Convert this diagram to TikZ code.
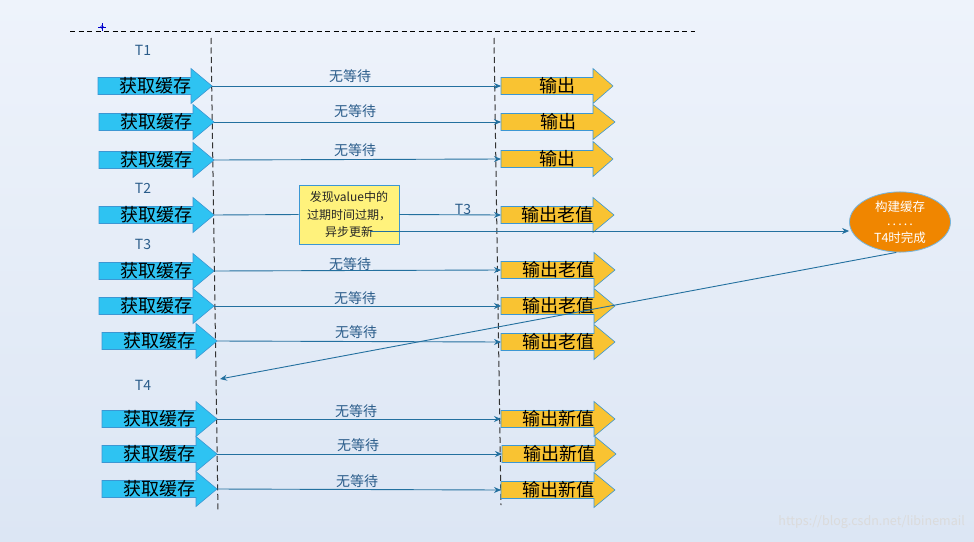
\documentclass[tikz,border=0pt]{standalone}
\usepackage{fontspec}
\setmainfont{Noto Sans CJK SC}
\usetikzlibrary{arrows.meta,shapes.geometric}
\definecolor{bgtop}{HTML}{EEF3FB}
\definecolor{bgbot}{HTML}{DCE6F4}
\definecolor{bluefill}{HTML}{2EC3F2}
\definecolor{blueedge}{HTML}{3C97D3}
\definecolor{yelfill}{HTML}{F9C332}
\definecolor{conncol}{HTML}{23709F}
\definecolor{lblcol}{HTML}{2A5C8A}
\definecolor{notefill}{HTML}{FFF27C}
\definecolor{orangefill}{HTML}{F08600}
\definecolor{dashcol}{HTML}{333333}
\tikzset{
  bluearrow/.style={fill=bluefill,draw=blueedge,line width=0.6pt},
  yelarrow/.style={fill=yelfill,draw=blueedge,line width=0.6pt},
  arrtext/.style={inner sep=0pt,font=\fontsize{18}{20}\selectfont,text=black},
  conn/.style={draw=conncol,line width=0.9pt,-{Stealth[length=7pt,width=6pt]}},
  lbl/.style={inner sep=0pt,font=\fontsize{14}{16}\selectfont,text=lblcol},
  tlabel/.style={inner sep=0pt,font=\fontsize{14}{16}\selectfont,text=lblcol},
  sepline/.style={draw=dashcol,line width=1pt,dash pattern=on 6pt off 3.5pt},
  notebox/.style={rectangle,fill=notefill,draw=blueedge,line width=0.7pt,minimum width=100pt,minimum height=59pt,inner sep=0pt,align=center,font=\fontsize{12}{17.5}\selectfont,text=black!85},
  ellnode/.style={ellipse,fill=orangefill,draw=blueedge!70,line width=0.8pt,minimum width=101pt,minimum height=60pt,inner sep=0pt,align=center,font=\fontsize{12.5}{17}\selectfont,text=white}
}
% #1 name, #2 left x, #3 head start x, #4 tip x, #5 y, #6 style, #7 text
\newcommand\fatarrow[7]{%
  \path[#6] (#2,#5-8.5) -- (#3,#5-8.5) -- (#3,#5-17.5) -- (#4,#5) -- (#3,#5+17.5) -- (#3,#5+8.5) -- (#2,#5+8.5) -- cycle;
  \node[arrtext] (#1) at ({(#2+#4)/2},#5) {#7};
  \coordinate (#1tip) at (#4,#5);
  \coordinate (#1tail) at (#2,#5);
}
\begin{document}
\begin{tikzpicture}[x=1pt,y=-1pt]
\useasboundingbox (0,0) rectangle (974,541);
\shade[top color=bgtop,bottom color=bgbot] (0,0) rectangle (974,541);

% top dashed line and marker
\coordinate (tl) at (70,31);
\coordinate (tr) at (695,31);
\draw[black,line width=0.8pt,dash pattern=on 5pt off 3.5pt] (tl) -- (tr);
\coordinate (mk) at (102,27);
\draw[blue!80!black,line width=0.6pt] ([xshift=-4pt]mk) -- ([xshift=4pt]mk) ([yshift=-4pt]mk) -- ([yshift=4pt]mk);
\draw[blue!80!black,line width=0.5pt] (mk) circle (1.5pt);

% vertical separators
\coordinate (v1t) at (211,38);
\coordinate (v1b) at (218,512);
\coordinate (v2t) at (494,38);
\coordinate (v2b) at (501,505);
\draw[sepline] (v1t) -- (v1b);
\draw[sepline] (v2t) -- (v2b);

% time labels
\node[tlabel] (T1) at (143,50) {T1};
\node[tlabel] (T2) at (143,188) {T2};
\node[tlabel] (T3) at (143,244) {T3};
\node[tlabel] (T4) at (143,385) {T4};

% blue arrows
\fatarrow{b1}{98}{191}{212}{86}{bluearrow}{获取缓存}
\fatarrow{b2}{99}{193}{214}{122}{bluearrow}{获取缓存}
\fatarrow{b3}{99}{193}{214}{160}{bluearrow}{获取缓存}
\fatarrow{b4}{99}{193}{214}{215}{bluearrow}{获取缓存}
\fatarrow{b5}{99}{193}{214}{271}{bluearrow}{获取缓存}
\fatarrow{b6}{99}{193}{214}{306}{bluearrow}{获取缓存}
\fatarrow{b7}{102}{196}{217}{341}{bluearrow}{获取缓存}
\fatarrow{b8}{102}{196}{217}{419}{bluearrow}{获取缓存}
\fatarrow{b9}{102}{196}{217}{454}{bluearrow}{获取缓存}
\fatarrow{b10}{102}{196}{217}{489}{bluearrow}{获取缓存}

% yellow arrows
\fatarrow{y1}{501}{593}{613}{86}{yelarrow}{输出}
\fatarrow{y2}{501}{593}{615}{122}{yelarrow}{输出}
\fatarrow{y3}{501}{593}{613}{159}{yelarrow}{输出}
\fatarrow{y4}{501}{593}{614}{215}{yelarrow}{输出老值}
\fatarrow{y5}{501}{594}{615}{270}{yelarrow}{输出老值}
\fatarrow{y6}{501}{594}{615}{306}{yelarrow}{输出老值}
\fatarrow{y7}{501}{594}{615}{342}{yelarrow}{输出老值}
\fatarrow{y8}{501}{594}{615}{419}{yelarrow}{输出新值}
\fatarrow{y9}{502}{595}{616}{454}{yelarrow}{输出新值}
\fatarrow{y10}{501}{594}{615}{490}{yelarrow}{输出新值}

% no-wait connectors
\foreach \i/\lx/\ly in {1/350/76,2/355/111,3/355/150,5/350/264,6/355/298,7/356/332,8/356/411,9/358/445,10/357/481}{
  \draw[conn] (b\i tip) -- (y\i tail);
  \node[lbl] (w\i) at (\lx,\ly) {无等待};
}

% note and async update
\node[notebox] (note) at (349,214.5) {发现value中的\\过期时间过期，\\异步更新};
\draw[draw=conncol,line width=0.9pt] (b4tip) -- (note.west);
\draw[conn] (note.east) -- (y4tail);
\node[tlabel] (T3b) at (463,209) {T3};

\node[ellnode] (ell) at (900,222) {构建缓存\\[-3pt].\,.\,.\,.\,.\\T4时完成};
\coordinate (async) at (370,231);
\draw[conn] (async) -- (async -| ell.west);

\coordinate (t4hit) at (220,379);
\draw[conn] (ell.263) -- (t4hit);

% watermark
\node[inner sep=0pt,anchor=east,font=\fontsize{12.5}{14}\selectfont,text=white!72!gray] (wm) at (965,522) {https://blog.csdn.net/libinemail};
\end{tikzpicture}
\end{document}
